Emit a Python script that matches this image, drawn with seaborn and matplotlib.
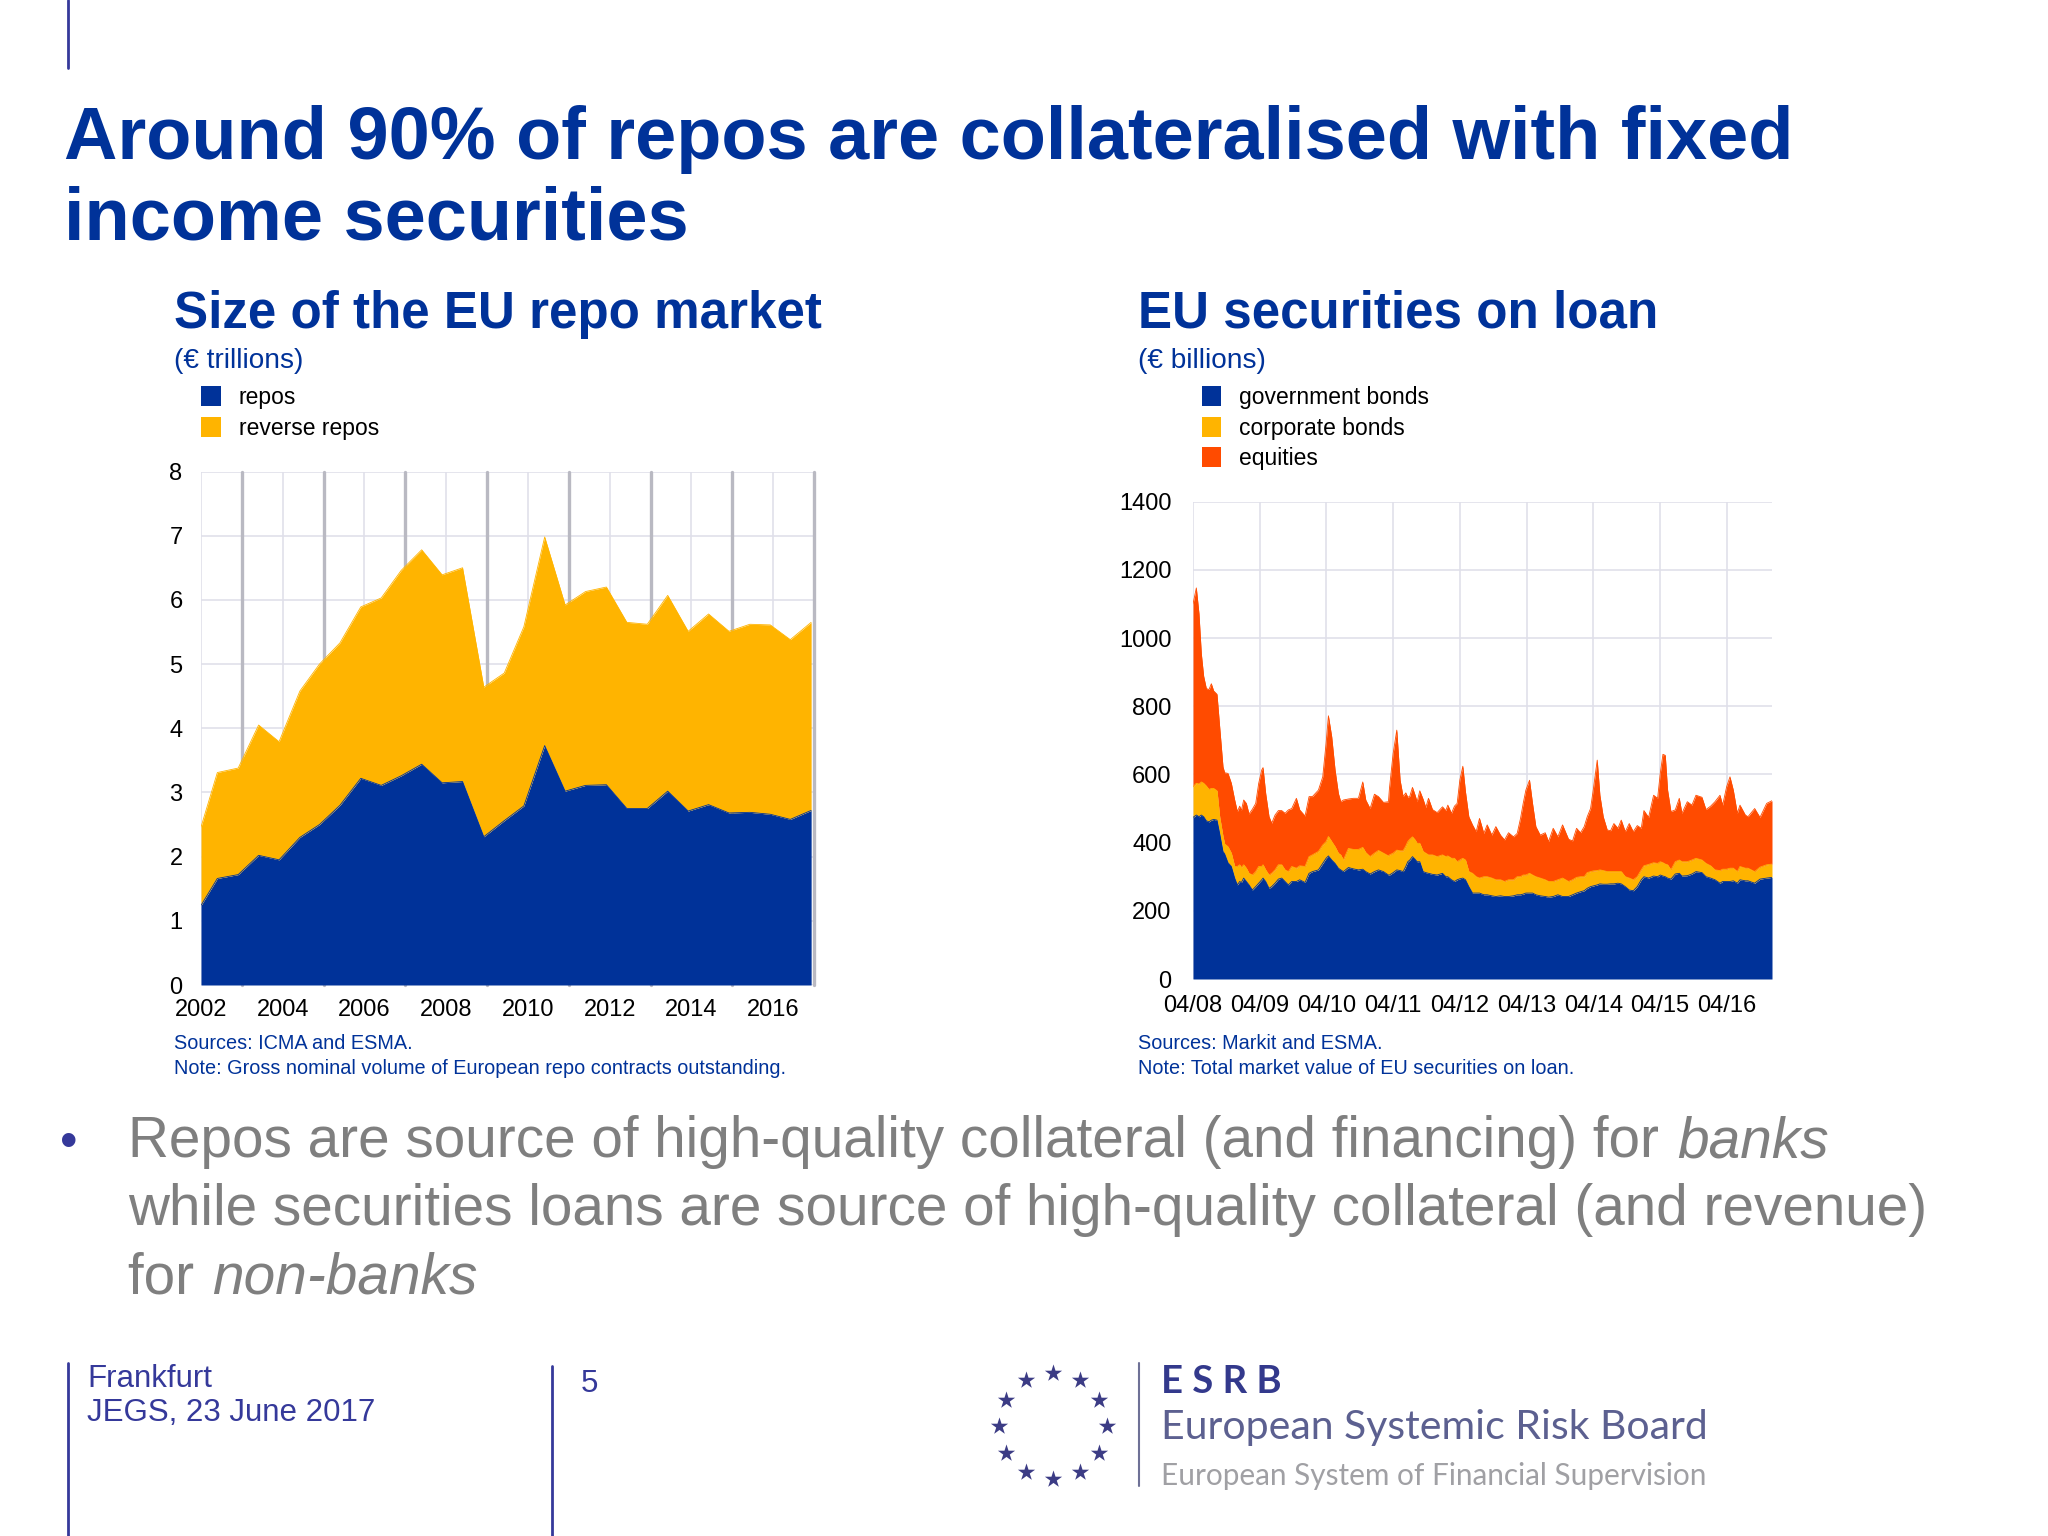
import numpy as np
import matplotlib
matplotlib.use("Agg")
import matplotlib.pyplot as plt
import seaborn as sns

BLUE = "#003299"
YELLOW = "#ffb400"
ORANGE = "#ff4b00"
GRID = "#e0e0ea"
FOOT = "#35399a"
GREY = "#7f7f7f"

# left chart: EU repo market, EUR trillions
repo_x = [2002.0, 2002.40, 2002.91, 2003.41, 2003.91, 2004.42, 2004.90, 2005.40, 2005.91, 2006.41, 2006.90,
          2007.40, 2007.90, 2008.40, 2008.92, 2009.42, 2009.90, 2010.41, 2010.91, 2011.41, 2011.92,
          2012.42, 2012.92, 2013.42, 2013.92, 2014.42, 2014.92, 2015.43, 2015.93, 2016.42, 2016.93]
repos = [1.24, 1.66, 1.72, 2.02, 1.95, 2.30, 2.50, 2.80, 3.22, 3.11, 3.26,
         3.44, 3.15, 3.17, 2.31, 2.56, 2.79, 3.73, 3.02, 3.11, 3.12,
         2.75, 2.75, 3.02, 2.71, 2.81, 2.68, 2.69, 2.66, 2.58, 2.72]
repo_total = [2.46, 3.31, 3.38, 4.05, 3.79, 4.58, 5.00, 5.33, 5.89, 6.03, 6.46,
              6.78, 6.39, 6.50, 4.64, 4.86, 5.58, 6.98, 5.92, 6.13, 6.20,
              5.65, 5.62, 6.07, 5.51, 5.78, 5.51, 5.62, 5.61, 5.38, 5.65]
repo_years = [2002, 2004, 2006, 2008, 2010, 2012, 2014, 2016]

# right chart: securities on loan, EUR billions, x = years after April 2008
loan_t = [0, .05, .09, .125, .16, .20, .24, .275, .31, .36, .40, .45, .475, .525, .575, .625, .665, .70, .725, .76,
          .80, .84, .89, .94, .985, 1.03, 1.05, 1.09, 1.14, 1.18, 1.23, 1.28, 1.33, 1.38, 1.43, 1.48, 1.55, 1.60, 1.68, 1.74,
          1.79, 1.88, 1.945, 1.995, 2.03, 2.08, 2.13, 2.18, 2.215, 2.255, 2.33, 2.405, 2.48, 2.545, 2.59, 2.655, 2.72, 2.78, 2.855, 2.93, 2.945,
          3.00, 3.055, 3.105, 3.15, 3.19, 3.22, 3.25, 3.29, 3.33, 3.36, 3.40, 3.45, 3.49, 3.53, 3.59, 3.66, 3.74, 3.79, 3.82, 3.875,
          3.92, 3.96, 4.00, 4.045, 4.085, 4.135, 4.19, 4.245, 4.295, 4.36, 4.41, 4.48, 4.54, 4.61, 4.67, 4.73, 4.805, 4.86, 4.91, 4.95,
          4.99, 5.045, 5.09, 5.14, 5.205, 5.28, 5.33, 5.40, 5.47, 5.54, 5.63, 5.69, 5.75, 5.81, 5.865,
          5.91, 5.96, 6.00, 6.06, 6.10, 6.15, 6.21, 6.26, 6.31, 6.37, 6.42, 6.48, 6.54, 6.60, 6.66, 6.72, 6.76, 6.83, 6.905, 6.965,
          7.005, 7.045, 7.08, 7.115, 7.165, 7.23, 7.29, 7.33, 7.41, 7.48, 7.54, 7.63, 7.69, 7.76, 7.825, 7.90, 7.94, 8.00, 8.05, 8.10,
          8.16, 8.20, 8.28, 8.32, 8.42, 8.50, 8.60, 8.68]
gov_bonds = [474, 481, 476, 481, 476, 464, 461, 466, 468, 466, 427, 374, 367, 341, 330, 296, 276, 286, 283, 296,
             286, 276, 261, 271, 281, 291, 296, 286, 266, 271, 281, 293, 296, 286, 276, 286, 286, 291, 283, 310,
             315, 320, 339, 354, 361, 349, 339, 325, 320, 315, 327, 323, 320, 322, 315, 308, 315, 320, 315, 305, 305,
             312, 320, 318, 315, 330, 344, 349, 359, 351, 344, 344, 315, 312, 310, 307, 305, 310, 300, 300, 291,
             286, 291, 294, 296, 291, 271, 252, 252, 252, 247, 247, 244, 242, 244, 242, 242, 244, 247, 247, 249,
             252, 252, 252, 247, 244, 242, 240, 242, 247, 242, 242, 247, 252, 256, 259,
             266, 271, 273, 276, 279, 278, 278, 279, 279, 281, 279, 271, 261, 259, 271, 291, 300, 296, 302, 300,
             305, 302, 300, 296, 293, 308, 310, 302, 303, 308, 315, 312, 300, 296, 291, 281, 286, 286, 286, 288,
             281, 291, 288, 288, 281, 293, 296, 298]
corp_top = [564, 574, 572, 578, 574, 566, 556, 559, 559, 552, 476, 418, 396, 388, 369, 330, 330, 335, 327, 335,
            325, 310, 305, 315, 330, 330, 335, 320, 305, 310, 320, 335, 335, 320, 315, 330, 325, 332, 330, 359,
            364, 374, 393, 403, 418, 403, 388, 369, 364, 349, 383, 380, 380, 386, 371, 359, 369, 377, 369, 361, 364,
            369, 378, 376, 376, 390, 403, 410, 417, 408, 398, 398, 374, 369, 364, 364, 359, 364, 359, 361, 354,
            354, 344, 349, 354, 349, 315, 310, 300, 296, 300, 300, 296, 291, 291, 286, 291, 291, 300, 300, 305,
            305, 310, 305, 300, 296, 291, 286, 286, 291, 296, 286, 291, 298, 300, 300,
            312, 315, 317, 318, 320, 318, 315, 315, 315, 315, 315, 300, 296, 291, 300, 320, 332, 336, 341, 339,
            344, 341, 337, 335, 320, 344, 349, 344, 344, 349, 354, 349, 339, 332, 320, 318, 322, 322, 325, 325,
            315, 330, 325, 325, 315, 328, 335, 337]
loan_total = [1100, 1147, 1071, 954, 888, 852, 849, 866, 845, 835, 739, 622, 605, 603, 574, 525, 491, 507, 494, 525,
              515, 484, 498, 515, 574, 613, 620, 544, 476, 457, 481, 494, 494, 486, 496, 500, 530, 496, 478, 535,
              535, 554, 593, 691, 772, 710, 613, 544, 520, 525, 528, 530, 530, 578, 525, 500, 542, 535, 518, 520, 559,
              661, 730, 583, 535, 546, 533, 536, 562, 539, 520, 552, 527, 503, 530, 497, 488, 505, 494, 510, 486,
              507, 515, 583, 624, 549, 476, 452, 432, 471, 427, 452, 422, 447, 422, 408, 429, 417, 427, 471, 515,
              554, 583, 515, 447, 422, 429, 403, 442, 417, 452, 410, 405, 442, 429, 447,
              476, 500, 554, 642, 539, 476, 437, 435, 456, 442, 466, 432, 456, 432, 450, 442, 494, 474, 539, 530,
              603, 659, 656, 554, 491, 496, 530, 486, 520, 510, 539, 533, 497, 507, 520, 539, 510, 564, 593, 554,
              486, 510, 481, 476, 500, 474, 515, 523]
loan_labels = ["04/08", "04/09", "04/10", "04/11", "04/12", "04/13", "04/14", "04/15", "04/16"]

sns.set_theme(style="white")
plt.rcParams["font.family"] = ["Liberation Sans", "DejaVu Sans"]

W, H = 2048, 1536
fig = plt.figure(figsize=(W / 100, H / 100), dpi=100, facecolor="white")


def make_axes(left, right, top, bottom):
    ax = fig.add_axes([left / W, 1 - bottom / H, (right - left) / W, (bottom - top) / H])
    sns.despine(ax=ax, left=True, bottom=True)
    ax.tick_params(axis="both", length=0, labelsize=17, labelcolor="black")
    ax.set_axisbelow(True)
    ax.grid(True, color=GRID, lw=1.2)
    return ax


# repo chart
ax1 = make_axes(201, 814, 471.5, 985)
sns.lineplot(x=repo_x, y=repos, ax=ax1, color=BLUE, lw=0.6)
sns.lineplot(x=repo_x, y=repo_total, ax=ax1, color=YELLOW, lw=0.6)
ax1.fill_between(repo_x, 0, repos, color=BLUE, lw=0)
ax1.fill_between(repo_x, repos, repo_total, color=YELLOW, lw=0)
ax1.set_xlim(2002, 2017)
ax1.set_ylim(0, 8)
ax1.set_xticks(np.arange(2002, 2018))
ax1.set_xticklabels([str(y) if y in repo_years else "" for y in range(2002, 2018)])
ax1.set_yticks(range(9))
for y in range(2003, 2018, 2):
    ax1.axvline(y, color="#b9b9c2", lw=2.4, zorder=0.9, clip_on=False)
ax1.tick_params(axis="x", pad=9.8)
ax1.tick_params(axis="y", pad=13.3)

# securities on loan chart
ax2 = make_axes(1193, 1772, 501.7, 979)
sns.lineplot(x=loan_t, y=gov_bonds, ax=ax2, color=BLUE, lw=0.6)
sns.lineplot(x=loan_t, y=corp_top, ax=ax2, color=YELLOW, lw=0.6)
sns.lineplot(x=loan_t, y=loan_total, ax=ax2, color=ORANGE, lw=0.6)
ax2.fill_between(loan_t, 0, gov_bonds, color=BLUE, lw=0)
ax2.fill_between(loan_t, gov_bonds, corp_top, color=YELLOW, lw=0)
ax2.fill_between(loan_t, corp_top, loan_total, color=ORANGE, lw=0)
ax2.set_xlim(0, 8.68)
ax2.set_ylim(0, 1400)
ax2.set_xticks(range(len(loan_labels)))
ax2.set_xticklabels(loan_labels)
ax2.set_yticks(range(0, 1401, 200))
ax2.tick_params(axis="x", pad=11.7)
ax2.tick_params(axis="y", pad=15.4)

# slide layer in pixel coordinates, everything that is not a chart
ov = fig.add_axes([0, 0, 1, 1], zorder=5)
ov.set_xlim(0, W)
ov.set_ylim(H, 0)
ov.axis("off")
ov.patch.set_alpha(0)


def txt(x, y, s, size, color="black", **kw):
    return ov.text(x, y, s, fontsize=size, color=color, va="baseline", ha=kw.pop("ha", "left"), **kw)


txt(64, 159, "Around 90% of repos are collateralised with fixed", 53.3, BLUE, fontweight="bold")
txt(64, 239, "income securities", 53.3, BLUE, fontweight="bold")

txt(174, 328, "Size of the EU repo market", 36.8, BLUE, fontweight="bold")
txt(174, 368, "(€ trillions)", 20.2, BLUE)
txt(1138, 328, "EU securities on loan", 36.8, BLUE, fontweight="bold")
txt(1138, 368, "(€ billions)", 20.2, BLUE)

for y, c, s in [(404, BLUE, "repos"), (435, YELLOW, "reverse repos")]:
    ov.add_patch(plt.Rectangle((201, y - 18), 20, 20, color=c, lw=0))
    txt(239, y, s, 16.5)
for y, c, s in [(404, BLUE, "government bonds"), (435, YELLOW, "corporate bonds"), (465, ORANGE, "equities")]:
    ov.add_patch(plt.Rectangle((1202, y - 18), 19, 20, color=c, lw=0))
    txt(1239, y, s, 16.5)

txt(174, 1049, "Sources: ICMA and ESMA.", 14.3, BLUE)
txt(174, 1074, "Note: Gross nominal volume of European repo contracts outstanding.", 14.3, BLUE)
txt(1138, 1049, "Sources: Markit and ESMA.", 14.3, BLUE)
txt(1138, 1074, "Note: Total market value of EU securities on loan.", 14.3, BLUE)

# bullet text, the italic words follow their line
renderer = fig.canvas.get_renderer()
txt(60, 1157, "•", 36, FOOT)
t = txt(128, 1157, "Repos are source of high-quality collateral (and financing) for ", 40.9, GREY)
txt(t.get_window_extent(renderer).x1 + 2, 1157, "banks", 40.9, GREY, style="italic")
txt(128, 1225, "while securities loans are source of high-quality collateral (and revenue)", 40.9, GREY)
t = txt(128, 1293, "for ", 40.9, GREY)
txt(t.get_window_extent(renderer).x1 + 2, 1293, "non-banks", 40.9, GREY, style="italic")

# footer
ov.plot([68, 68], [0, 68], color=FOOT, lw=2)
ov.plot([68, 68], [1363, H], color=FOOT, lw=2)
ov.plot([552, 552], [1366, H], color=FOOT, lw=2)
txt(87, 1387, "Frankfurt", 22.5, FOOT)
txt(87, 1421, "JEGS, 23 June 2017", 22.5, FOOT)
txt(581, 1392, "5", 22.5, FOOT)

# ESRB logo
angles = np.deg2rad(np.arange(0, 360, 30))
ov.scatter(1052.5 + 54 * np.cos(angles), 1426 + 53 * np.sin(angles), marker="*", s=170, color="#3c3c85", lw=0)
ov.plot([1139, 1139], [1363, 1486], color="#6e7196", lw=1.5)
txt(1161, 1393, "E S R B", 27.5, "#33398c", fontweight="bold", family=["Lato", "DejaVu Sans"])
txt(1161, 1439, "European Systemic Risk Board", 29.5, "#5c6090", family=["Lato", "DejaVu Sans"])
txt(1161, 1485, "European System of Financial Supervision", 21.4, "#a0a0a4", family=["Lato", "DejaVu Sans"])

fig.savefig("out.png", dpi=100, facecolor="white")
